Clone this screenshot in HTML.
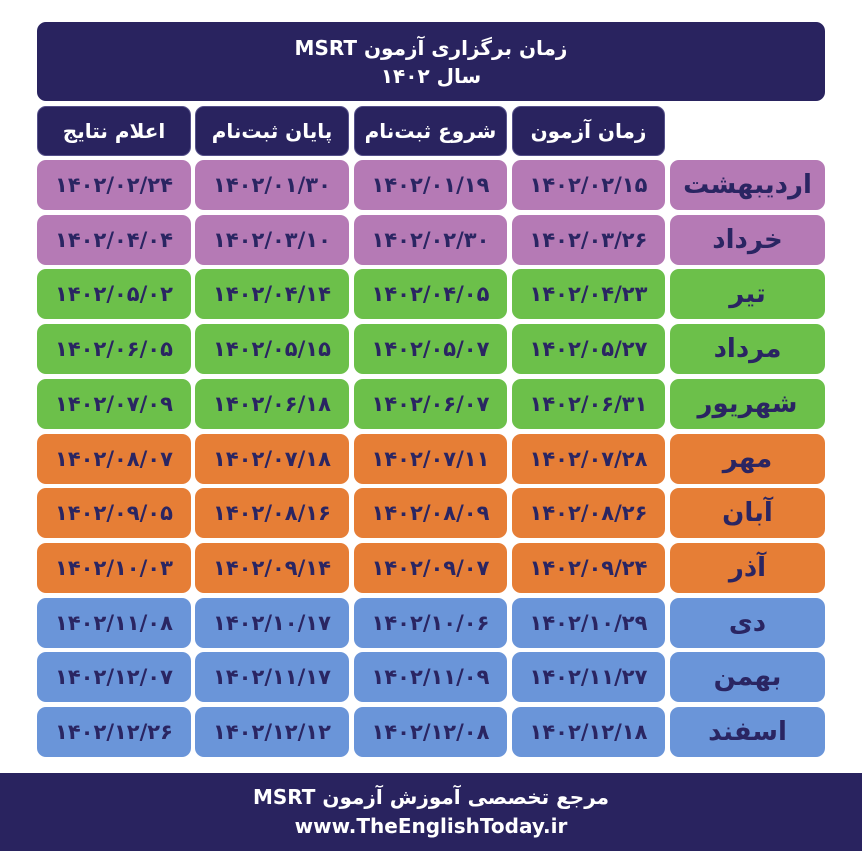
<!DOCTYPE html>
<html><head><meta charset="utf-8"><style>
body{margin:0;width:862px;height:851px;background:#fff;position:relative;overflow:hidden;font-family:"DejaVu Sans","Liberation Sans",sans-serif;font-weight:bold}
.b{position:absolute;box-sizing:border-box;border-radius:9px;display:flex;align-items:center;justify-content:center;color:#2a2562;font-size:21px;white-space:nowrap}
.h{background:#29235f;color:#fff;border:1.5px solid #55508a;font-size:20px}
.d{direction:ltr;font-size:21px;letter-spacing:1px}
.m{font-size:26px}
.p{background:#b57ab5}.g{background:#6cc04a}.o{background:#e67e36}.u{background:#6a95d9}
</style></head><body>
<div class="b h" style="left:37px;top:22px;width:788px;height:79px;flex-direction:column;font-size:20px;line-height:28px;direction:rtl;border-color:#29235f">
<div>زمان برگزاری آزمون MSRT</div><div>سال ۱۴۰۲</div></div>
<div class="b h" style="left:37px;top:106px;width:154px;height:50px">اعلام نتایج</div>
<div class="b h" style="left:195px;top:106px;width:154px;height:50px">پایان ثبت‌نام</div>
<div class="b h" style="left:354px;top:106px;width:153px;height:50px">شروع ثبت‌نام</div>
<div class="b h" style="left:512px;top:106px;width:153px;height:50px">زمان آزمون</div>
<div id="t"></div>
<div style="position:absolute;left:0;top:773px;width:862px;height:78px;background:#29235f;color:#fff;display:flex;flex-direction:column;align-items:center;justify-content:center;font-size:20px;line-height:29px">
<div style="direction:rtl">مرجع تخصصی آموزش آزمون MSRT</div><div>www.TheEnglishToday.ir</div></div>
<script>
var rows=[
["p","اردیبهشت","۱۴۰۲/۰۲/۱۵","۱۴۰۲/۰۱/۱۹","۱۴۰۲/۰۱/۳۰","۱۴۰۲/۰۲/۲۴"],
["p","خرداد","۱۴۰۲/۰۳/۲۶","۱۴۰۲/۰۲/۳۰","۱۴۰۲/۰۳/۱۰","۱۴۰۲/۰۴/۰۴"],
["g","تیر","۱۴۰۲/۰۴/۲۳","۱۴۰۲/۰۴/۰۵","۱۴۰۲/۰۴/۱۴","۱۴۰۲/۰۵/۰۲"],
["g","مرداد","۱۴۰۲/۰۵/۲۷","۱۴۰۲/۰۵/۰۷","۱۴۰۲/۰۵/۱۵","۱۴۰۲/۰۶/۰۵"],
["g","شهریور","۱۴۰۲/۰۶/۳۱","۱۴۰۲/۰۶/۰۷","۱۴۰۲/۰۶/۱۸","۱۴۰۲/۰۷/۰۹"],
["o","مهر","۱۴۰۲/۰۷/۲۸","۱۴۰۲/۰۷/۱۱","۱۴۰۲/۰۷/۱۸","۱۴۰۲/۰۸/۰۷"],
["o","آبان","۱۴۰۲/۰۸/۲۶","۱۴۰۲/۰۸/۰۹","۱۴۰۲/۰۸/۱۶","۱۴۰۲/۰۹/۰۵"],
["o","آذر","۱۴۰۲/۰۹/۲۴","۱۴۰۲/۰۹/۰۷","۱۴۰۲/۰۹/۱۴","۱۴۰۲/۱۰/۰۳"],
["u","دی","۱۴۰۲/۱۰/۲۹","۱۴۰۲/۱۰/۰۶","۱۴۰۲/۱۰/۱۷","۱۴۰۲/۱۱/۰۸"],
["u","بهمن","۱۴۰۲/۱۱/۲۷","۱۴۰۲/۱۱/۰۹","۱۴۰۲/۱۱/۱۷","۱۴۰۲/۱۲/۰۷"],
["u","اسفند","۱۴۰۲/۱۲/۱۸","۱۴۰۲/۱۲/۰۸","۱۴۰۲/۱۲/۱۲","۱۴۰۲/۱۲/۲۶"]];
var cols=[[670,155],[512,153],[354,153],[195,154],[37,154]];
var h="";
rows.forEach(function(r,i){var top=Math.round(160+i*54.7);
for(var c=0;c<5;c++){h+='<div class="b '+r[0]+(c==0?' m':' d')+'" style="left:'+cols[c][0]+'px;top:'+top+'px;width:'+cols[c][1]+'px;height:50px">'+r[c+1]+'</div>';}});
document.getElementById("t").innerHTML=h;
</script>
</body></html>
